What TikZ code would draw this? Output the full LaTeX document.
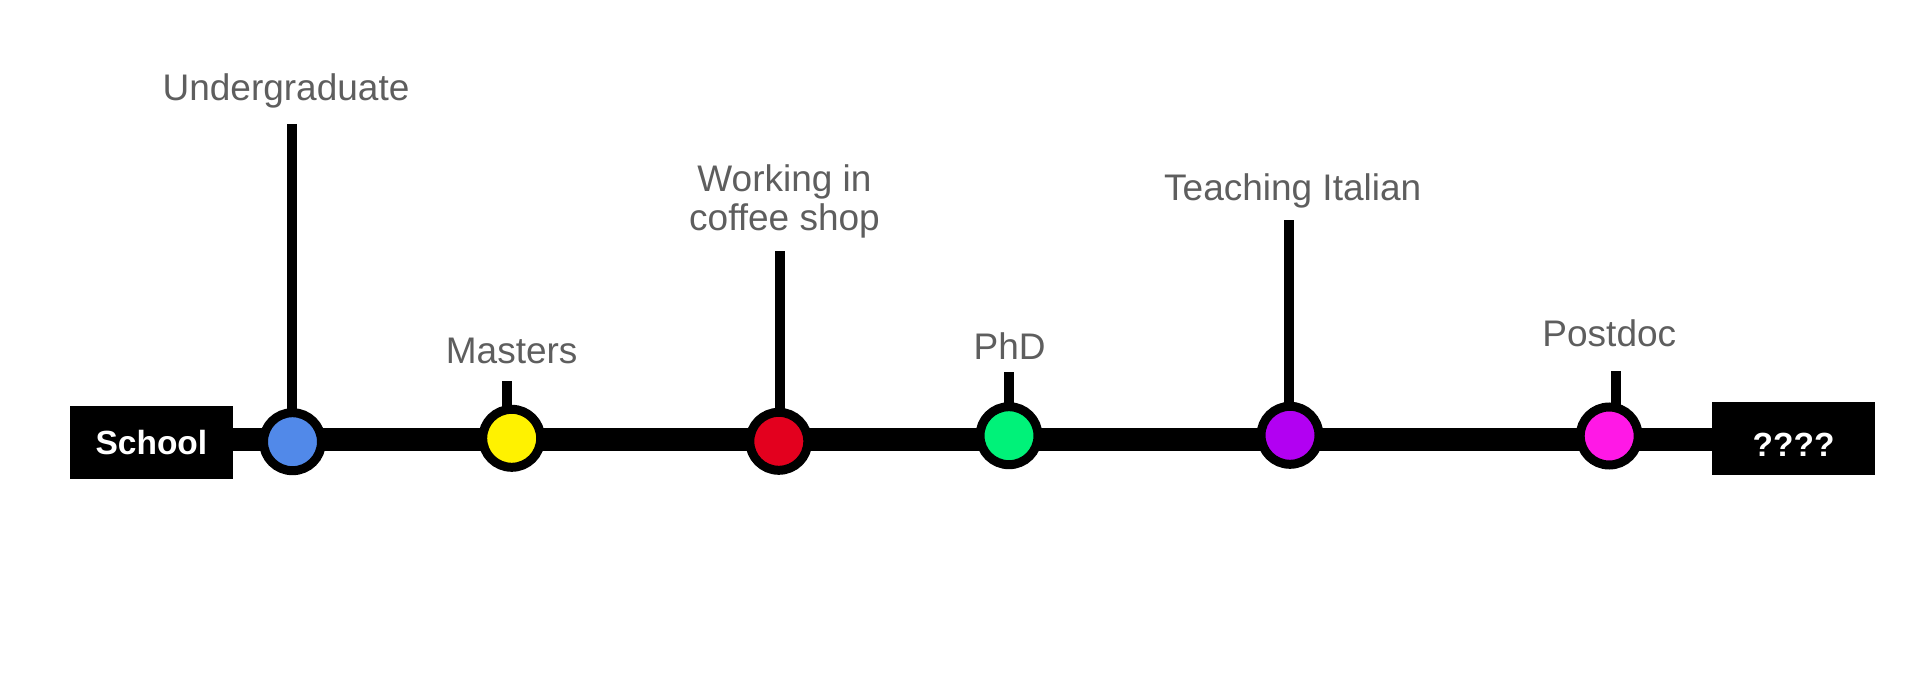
\documentclass[tikz,border=0pt]{standalone}
\usepackage{fontspec}
\setmainfont{Liberation Sans}
\definecolor{labelgray}{HTML}{5E5E5E}
\definecolor{cblue}{HTML}{5189E9}
\definecolor{cyellow}{HTML}{FFF200}
\definecolor{cred}{HTML}{E3001E}
\definecolor{cgreen}{HTML}{00F279}
\definecolor{cpurple}{HTML}{B200F2}
\definecolor{cmagenta}{HTML}{FF18E6}
\pgfdeclarelayer{background}
\pgfsetlayers{background,main}
\tikzset{
  endbox/.style={fill=black, inner sep=0pt, minimum width=162.7bp, minimum height=72.7bp,
    text=white, font=\fontsize{33.5bp}{40bp}\selectfont\bfseries, text depth=0pt},
  mainline/.style={line width=23bp},
  stemline/.style={line width=10bp},
  stop/.style={circle, draw=black, line width=9bp, minimum size=58bp, inner sep=0pt},
  lbl/.style={text=labelgray, font=\fontsize{37bp}{39bp}\selectfont, anchor=base, inner sep=0pt, align=center}
}
\begin{document}
\begin{tikzpicture}[x=1bp,y=-1bp]
\useasboundingbox (0,0) rectangle (1920,676);
% end boxes
\node[endbox, text height=23.2bp] (school) at (151.4,442.4) {School};
\node[endbox, text height=35.2bp] (future) at (1793.6,438.4) {????};
\coordinate (liney) at (0,439);
% stem tops
\coordinate (ut) at (292,124);
\coordinate (mt) at (507,381);
\coordinate (wt) at (780,251);
\coordinate (pt) at (1009,372);
\coordinate (tt) at (1288.7,220);
\coordinate (dt) at (1616,371);
% stops
\node[stop, fill=cblue] (u) at (292.5,441.7) {};
\node[stop, fill=cyellow] (m) at (511.7,438.3) {};
\node[stop, fill=cred] (w) at (778.8,441.3) {};
\node[stop, fill=cgreen] (p) at (1009,435.7) {};
\node[stop, fill=cpurple] (t) at (1290,435.3) {};
\node[stop, fill=cmagenta] (d) at (1609.2,436) {};
\begin{pgfonlayer}{background}
% main line
\draw[mainline] (school.east |- liney) -- (future.west |- liney);
% stems
\draw[stemline] (ut) -- (ut |- u.center);
\draw[stemline] (mt) -- (mt |- m.center);
\draw[stemline] (wt) -- (wt |- w.center);
\draw[stemline] (pt) -- (pt |- p.center);
\draw[stemline] (tt) -- (tt |- t.center);
\draw[stemline] (dt) -- (dt |- d.center);
\end{pgfonlayer}
% labels
\node[lbl] (ul) at (286,100.7) {Undergraduate};
\node[lbl] (ml) at (511.7,363.3) {Masters};
\node[lbl] (wl) at (784.5,230.7) {Working in\\coffee shop};
\node[lbl] (pl) at (1009.6,359.3) {PhD};
\node[lbl] (tl) at (1292.7,200.7) {Teaching Italian};
\node[lbl] (dl) at (1609.3,346) {Postdoc};
\end{tikzpicture}
\end{document}
